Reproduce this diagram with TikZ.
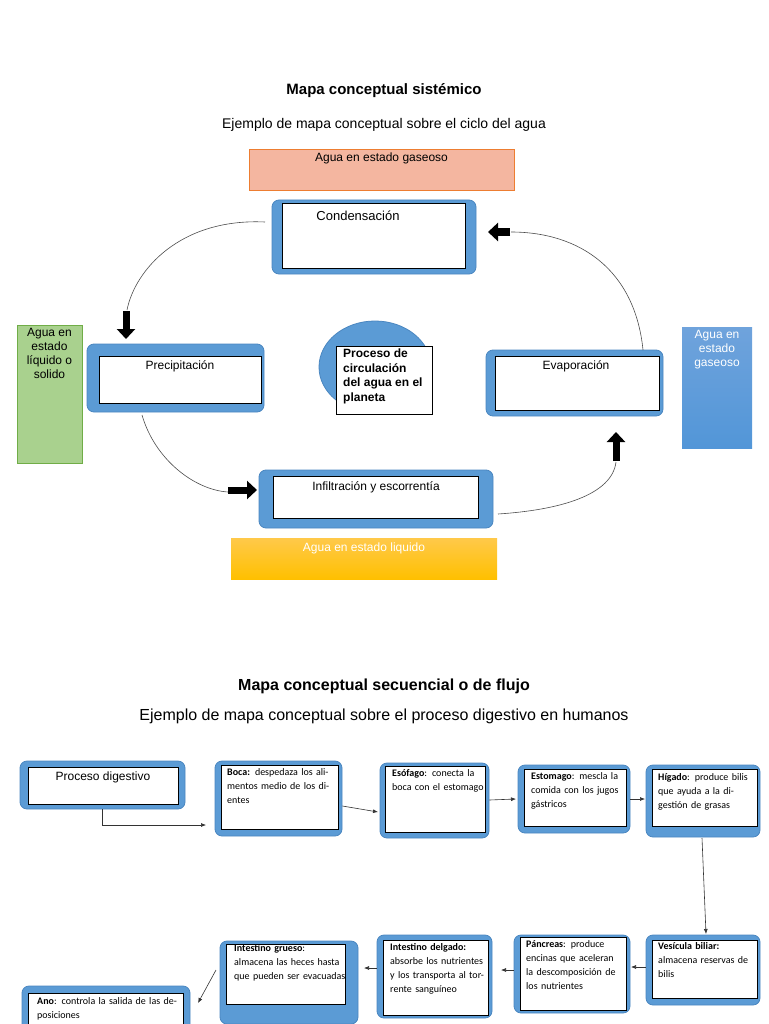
\documentclass[tikz,border=0pt]{standalone}
\usepackage{fontspec}
\setmainfont{Liberation Sans}
\newfontfamily\carlf{Carlito}
\usetikzlibrary{arrows.meta,shapes.geometric}
\definecolor{bl}{HTML}{5B9BD5}
\definecolor{bld}{HTML}{4A86C0}
\newcommand\obox[5]{\node[obox,minimum width={#4-#2},minimum height={#5-#3}] (#1) at ({(#2+#4)/2},{(#3+#5)/2}) {};}
\newcommand\ibox[5]{\node[ibox,minimum width={#4-#2},minimum height={#5-#3}] (#1) at ({(#2+#4)/2},{(#3+#5)/2}) {};}
\begin{document}
\begin{tikzpicture}[x=1pt,y=-1pt,
 obox/.style={draw=bld,fill=bl,rounded corners=7pt,line width=0.8pt,inner sep=0pt},
 ibox/.style={draw=black,fill=white,line width=1pt,inner sep=0pt},
 lbl/.style={font=\fontsize{12}{14}\selectfont,inner sep=0pt},
 dtx/.style={font=\carlf\fontsize{10}{14}\selectfont,anchor=north west,align=left,inner sep=0pt},
 cur/.style={draw=black!70,line width=0.6pt},
 blk/.style={line width=7pt,-{Triangle[width=18pt,length=10pt]}},
 thin/.style={draw=black!80,line width=0.6pt,-{Latex[length=5pt,width=4pt]}}]
\useasboundingbox (0,0) rectangle (768,1024);
\node[font=\bfseries\fontsize{15}{18}\selectfont] (t1) at (384,91) {Mapa conceptual sistémico};
\node[font=\fontsize{14}{17}\selectfont] (t2) at (384,125) {Ejemplo de mapa conceptual sobre el ciclo del agua};
% state boxes
\node[draw={rgb,255:red,237;green,125;blue,49},fill={rgb,255:red,244;green,182;blue,160},minimum width=265,minimum height=41,inner sep=0pt] (gas) at (381.5,169.5) {};
\node[lbl] at (381.5,158) {Agua en estado gaseoso};
\node[draw={rgb,255:red,112;green,173;blue,71},fill={rgb,255:red,169;green,209;blue,142},minimum width=65,minimum height=138,inner sep=0pt] (liq) at (49.5,394) {};
\node[lbl,align=center,anchor=north] at (49.5,328) {Agua en\\estado\\líquido o\\solido};
\shade[top color={rgb,255:red,111;green,163;blue,220},bottom color={rgb,255:red,82;green,150;blue,216}] (682,327) rectangle (752,448);
\node[inner sep=0pt,minimum width=70,minimum height=121] (gas2) at (717,387.5) {};
\node[lbl,align=center,anchor=north,text=white] at (717,330) {Agua en\\estado\\gaseoso};
\shade[top color={rgb,255:red,255;green,201;blue,74},bottom color={rgb,255:red,255;green,192;blue,0}] (231,538) rectangle (497,579);
\node[inner sep=0pt,minimum width=266,minimum height=41] (liq2) at (364,558.5) {};
\node[lbl,text=white] at (364,548) {Agua en estado liquido};
% process boxes
\obox{cond}{272}{200}{476}{274}\ibox{condi}{282}{204}{465}{268}
\node[font=\fontsize{13}{15}\selectfont] at (358,216) {Condensación};
\obox{prec}{87}{344}{264}{412}\ibox{preci}{99}{356}{261}{403}
\node[lbl] at (180,366) {Precipitación};
\obox{evap}{486}{350}{663}{416}\ibox{evapi}{495}{356}{659}{410}
\node[lbl] at (576,366) {Evaporación};
\obox{infi}{259}{470}{493}{528}\ibox{infii}{273}{476}{478}{518}
\node[lbl] at (376,487) {Infiltración y escorrentía};
\node[draw=bld,fill=bl,ellipse,minimum width=112,minimum height=92,inner sep=0pt,line width=0.8pt] (circ) at (375,367) {};
\ibox{circi}{336}{346}{432}{414}
\node[font=\bfseries\fontsize{12}{14.5}\selectfont,anchor=north west,align=left,inner sep=0pt] at (343,349) {Proceso de\\circulación\\del agua en el\\planeta};
% curves
\draw[cur] (265,222) .. controls (180,218) and (135,270) .. (127,310);
\draw[cur] (142,415) .. controls (155,460) and (195,490) .. (228,492);
\draw[cur] (498,514) .. controls (560,510) and (612,495) .. (616,462);
\draw[cur] (643,350) .. controls (635,270) and (580,232) .. (511,232);
\draw[blk] (126,311) -- (126,339);
\draw[blk] (228,490) -- (257,490);
\draw[blk] (616,461) -- (616,432);
\draw[blk] (510,232) -- (488,232);
% second part
\node[font=\bfseries\fontsize{16}{19}\selectfont] (t3) at (384,686) {Mapa conceptual secuencial o de flujo};
\node[font=\fontsize{16}{19}\selectfont] (t4) at (384,716) {Ejemplo de mapa conceptual sobre el proceso digestivo en humanos};
\obox{pd}{20}{761}{185}{809}\ibox{pdi}{28}{767}{178}{804}
\node[lbl] at (103,777) {Proceso digestivo};
\obox{boca}{215}{761}{342}{836}\ibox{bocai}{221}{765}{338}{829}
\node[dtx,text width=112] at (227,768) {\textbf{Boca:} despedaza los alimentos medio de los dientes};
\obox{esof}{380}{763}{489}{838}\ibox{esofi}{385}{766}{485}{832}
\node[dtx,text width=96] at (392,769) {\textbf{Esófago}: conecta la boca con el estomago};
\obox{esto}{518}{765}{630}{833}\ibox{estoi}{524}{769}{626}{826}
\node[dtx,text width=98] at (531,772) {\textbf{Estomago}: mescla la comida con los jugos gástricos};
\obox{higa}{646}{765}{760}{837}\ibox{higai}{652}{769}{757}{826}
\node[dtx,text width=102] at (658,773) {\textbf{Hígado}: produce bilis que ayuda a la digestión de grasas};
\obox{vesi}{646}{935}{760}{1005}\ibox{vesii}{652}{940}{757}{998}
\node[dtx,text width=100] at (658,942) {\textbf{Vesícula biliar:}\\almacena reservas de bilis};
\obox{panc}{514}{935}{630}{1013}\ibox{panci}{520}{937}{626}{1010}
\node[dtx,text width=100] at (526,940) {\textbf{Páncreas}: produce encinas que aceleran la descomposición de los nutrientes};
\obox{idel}{377}{935}{492}{1018}\ibox{ideli}{383}{940}{488}{1015}
\node[dtx,text width=100] at (390,943) {\textbf{Intestino delgado:}\\absorbe los nutrientes y los transporta al torrente sanguíneo};
\obox{igru}{220}{941}{358}{1024}\ibox{igrui}{226}{944}{345}{1004}
\node[dtx,text width=112] at (234,944) {\textbf{Intestino grueso}:\\almacena las heces hasta que pueden ser evacuadas};
\obox{ano}{22}{986}{190}{1034}\ibox{anoi}{28}{993}{183}{1034}
\node[dtx,text width=150] at (37,997) {\textbf{Ano}: controla la salida de las deposiciones};
\coordinate (c1) at (102,825);
\draw[thin] (pd.south -| c1) -- (c1) -- (206,825);
\draw[thin] (boca.east |- 0,806) -- (378,812);
\draw[thin] (esof.east |- 0,800) -- (516,799);
\draw[thin] (esto.east |- 0,799) -- (645,799);
\draw[thin] (702,838) -- (706,934);
\draw[thin] (vesi.west |- 0,967) -- (631,967);
\draw[thin] (panc.west |- 0,970) -- (501,970);
\draw[thin] (idel.west |- 0,968) -- (364,968);
\draw[thin] (216,970) -- (198,1003);
\end{tikzpicture}
\end{document}
